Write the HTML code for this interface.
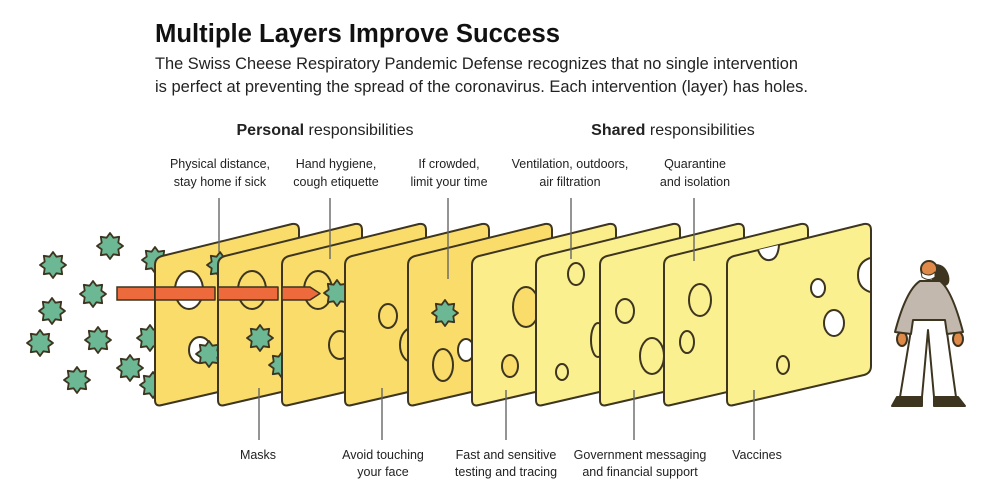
<!DOCTYPE html>
<html><head><meta charset="utf-8"><style>
body{margin:0;background:#fff;width:997px;height:503px;overflow:hidden}
svg{display:block}
text{font-family:"Liberation Sans Narrow","Liberation Sans",sans-serif;fill:#222}
</style></head><body>
<svg width="997" height="503" viewBox="0 0 997 503" xmlns="http://www.w3.org/2000/svg">
<defs>
<path id="slice" d="M155,265 Q155,258 162,256 L292,224 Q299,223 299,230 L299,366 Q299,373 292,375 L162,405 Q155,407 155,400 Z"/>
<polygon id="v" points="0,-13 3.4,-8.3 9.2,-9.2 8.3,-3.4 13,0 8.3,3.4 9.2,9.2 3.4,8.3 0,13 -3.4,8.3 -9.2,9.2 -8.3,3.4 -13,0 -8.3,-3.4 -9.2,-9.2 -3.4,-8.3" fill="#6cb894" stroke="#3d3520" stroke-width="1.8" stroke-linejoin="round"/>
</defs>
<text x="155" y="42" textLength="405" lengthAdjust="spacingAndGlyphs" style="font-family:'Liberation Sans',sans-serif;font-weight:bold;font-size:25.5px;fill:#111">Multiple Layers Improve Success</text>
<text x="155" y="69" textLength="643" lengthAdjust="spacingAndGlyphs" style="font-family:'Liberation Sans',sans-serif;font-size:16.5px;fill:#222">The Swiss Cheese Respiratory Pandemic Defense recognizes that no single intervention</text>
<text x="155" y="92" textLength="653" lengthAdjust="spacingAndGlyphs" style="font-family:'Liberation Sans',sans-serif;font-size:16.5px;fill:#222">is perfect at preventing the spread of the coronavirus. Each intervention (layer) has holes.</text>
<g font-size="16" text-anchor="middle">
<text x="325" y="135"><tspan font-weight="bold">Personal</tspan> responsibilities</text>
<text x="673" y="135"><tspan font-weight="bold">Shared</tspan> responsibilities</text>
</g>
<g font-size="12.5" text-anchor="middle">
<text x="220" y="168">Physical distance,</text><text x="220" y="186">stay home if sick</text>
<text x="336" y="168">Hand hygiene,</text><text x="336" y="186">cough etiquette</text>
<text x="449" y="168">If crowded,</text><text x="449" y="186">limit your time</text>
<text x="570" y="168">Ventilation, outdoors,</text><text x="570" y="186">air filtration</text>
<text x="695" y="168">Quarantine</text><text x="695" y="186">and isolation</text>
<text x="258" y="459">Masks</text>
<text x="383" y="459">Avoid touching</text><text x="383" y="476">your face</text>
<text x="506" y="459">Fast and sensitive</text><text x="506" y="476">testing and tracing</text>
<text x="640" y="459">Government messaging</text><text x="640" y="476">and financial support</text>
<text x="757" y="459">Vaccines</text>
</g>
<g>
<use href="#v" x="110" y="246"/><use href="#v" x="53" y="265"/><use href="#v" x="93" y="294"/>
<use href="#v" x="52" y="311"/><use href="#v" x="98" y="340"/><use href="#v" x="40" y="343"/>
<use href="#v" x="130" y="368"/><use href="#v" x="77" y="380"/><use href="#v" x="155" y="260"/>
<use href="#v" x="150" y="338"/><use href="#v" x="153" y="385"/>
</g>
<rect x="117" y="287" width="40" height="13" fill="#ec6a3c" stroke="#3d3520" stroke-width="1.5"/>
<g stroke="#3d3520" stroke-width="2" stroke-linejoin="round">
<use href="#slice" fill="#f9dc6a"/>
<ellipse cx="189" cy="290" rx="14" ry="19" fill="#fff"/>
<ellipse cx="200" cy="350" rx="11" ry="13" fill="#fff"/>
<rect x="155" y="287" width="60" height="13" fill="#ec6a3c" stroke-width="1.5"/>
<use href="#v" x="209" y="354"/><use href="#v" x="220" y="265"/>
<use href="#slice" x="63" fill="#f9dc6a"/>
<ellipse cx="252" cy="290" rx="14" ry="19" fill="#f9dc6a"/>
<rect x="218" y="287" width="60" height="13" fill="#ec6a3c" stroke-width="1.5"/>
<use href="#v" x="260" y="338"/><use href="#v" x="282" y="365"/>
<use href="#slice" x="127" fill="#f9dc6a"/>
<ellipse cx="318" cy="290" rx="14" ry="19" fill="#f9dc6a"/>
<path d="M282,287 L310,287 L320,293.5 L310,300 L282,300 Z" fill="#ec6a3c" stroke-width="1.5"/>
<ellipse cx="340" cy="345" rx="11" ry="14" fill="#f9dc6a"/>
<use href="#v" x="337" y="293"/>
<use href="#slice" x="190" fill="#f9dc6a"/>
<ellipse cx="388" cy="316" rx="9" ry="12" fill="#f9dc6a"/>
<ellipse cx="412" cy="345" rx="12" ry="17" fill="#f9dc6a"/>
<use href="#slice" x="253" fill="#f9dc6a"/>
<ellipse cx="443" cy="365" rx="10" ry="16" fill="#f9dc6a"/>
<use href="#v" x="445" y="313"/>
<ellipse cx="466" cy="350" rx="8" ry="11" fill="#fff"/>
<use href="#slice" x="317" fill="#fbed8a"/>
<ellipse cx="526" cy="307" rx="13" ry="20" fill="#f9dc6a"/>
<ellipse cx="510" cy="366" rx="8" ry="11" fill="#f9dc6a"/>
<use href="#slice" x="381" fill="#fbf08f"/>
<ellipse cx="576" cy="274" rx="8" ry="11" fill="#fbf08f"/>
<ellipse cx="562" cy="372" rx="6" ry="8" fill="#fbf08f"/>
<ellipse cx="598" cy="340" rx="7" ry="17" fill="#fbf08f"/>
<use href="#slice" x="445" fill="#fbf08f"/>
<ellipse cx="625" cy="311" rx="9" ry="12" fill="#fbf08f"/>
<ellipse cx="652" cy="356" rx="12" ry="18" fill="#fbf08f"/>
<use href="#slice" x="509" fill="#fbf08f"/>
<ellipse cx="700" cy="300" rx="11" ry="16" fill="#fbf08f"/>
<ellipse cx="687" cy="342" rx="7" ry="11" fill="#fbf08f"/>
<use href="#slice" x="572" fill="#fbf08f"/>
<ellipse cx="818" cy="288" rx="7" ry="9" fill="#fff"/>
<ellipse cx="834" cy="323" rx="10" ry="13" fill="#fff"/>
<ellipse cx="783" cy="365" rx="6" ry="9" fill="#fbf08f"/>
<path d="M870,258 Q858,262 858,275 Q858,288 870,292" fill="#fff"/>
<path d="M758,250 Q762,261 770,260 Q778,259 779,245" fill="#fff"/>
</g>
<g stroke="#666" stroke-width="1.4">
<line x1="219" y1="198" x2="219" y2="252"/><line x1="330" y1="198" x2="330" y2="259"/>
<line x1="448" y1="198" x2="448" y2="279"/><line x1="571" y1="198" x2="571" y2="259"/>
<line x1="694" y1="198" x2="694" y2="261"/>
<line x1="259" y1="388" x2="259" y2="440"/><line x1="382" y1="388" x2="382" y2="440"/>
<line x1="506" y1="390" x2="506" y2="440"/><line x1="634" y1="390" x2="634" y2="440"/>
<line x1="754" y1="390" x2="754" y2="440"/>
</g>
<g stroke="#3d3520" stroke-width="2" stroke-linejoin="round">
<path d="M930,266 Q944,262 948,276 Q950,286 942,285 Q934,282 930,276Z" fill="#3d3520"/>
<circle cx="929" cy="269" r="8" fill="#e08a4a"/>
<path d="M921,272 Q929,278 935,272 L935,277 Q929,282 922,277Z" fill="#fff" stroke-width="1"/>
<ellipse cx="902" cy="339" rx="5" ry="7" fill="#e08a4a"/>
<ellipse cx="958" cy="339" rx="5" ry="7" fill="#e08a4a"/>
<path d="M913,318 L900,397 L922,397 L928,330 L934,397 L956,397 L945,318Z" fill="#fff"/>
<path d="M920,281 L940,281 Q952,290 963,332 L947,334 L945,320 L913,320 L911,334 L895,332 Q906,290 920,281Z" fill="#c2b8ad"/>
<path d="M897,397 L922,397 L922,406 L892,406Z M934,397 L958,397 L965,406 L934,406Z" fill="#3d3520"/>
</g>
</svg>
</body></html>
